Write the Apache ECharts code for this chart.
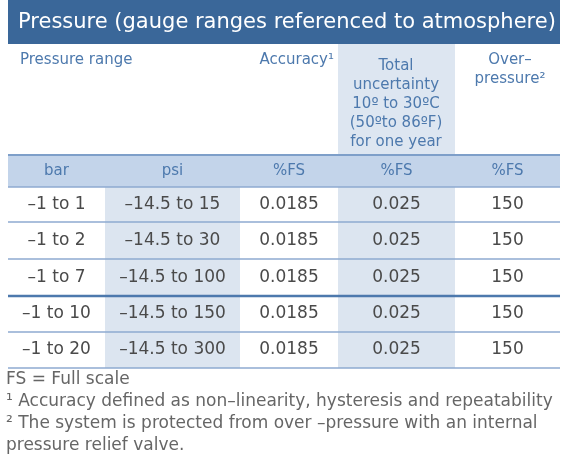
<!DOCTYPE html>
<html>
<head>
<meta charset="utf-8">
<script src="https://cdn.jsdelivr.net/npm/echarts@6/dist/echarts.min.js"></script>
<style>html,body{margin:0;background:#fff}#container{width:569px;height:461px}</style>
</head>
<body>
<div id="container"></div>
<script>
var title = 'Pressure (gauge ranges referenced to atmosphere)';
var headers = ['Pressure range', '', 'Accuracy\u00b9', 'Total\nuncertainty\n10\u00ba to 30\u00baC\n(50\u00bato 86\u00baF)\nfor one year', 'Over\u2013\npressure\u00b2'];
var units = ['bar', 'psi', '%FS', '%FS', '%FS'];
var barRange = ['\u20131 to 1', '\u20131 to 2', '\u20131 to 7', '\u20131 to 10', '\u20131 to 20'];
var psiRange = ['\u201314.5 to 15', '\u201314.5 to 30', '\u201314.5 to 100', '\u201314.5 to 150', '\u201314.5 to 300'];
var accuracy = ['0.0185', '0.0185', '0.0185', '0.0185', '0.0185'];
var totalUnc = ['0.025', '0.025', '0.025', '0.025', '0.025'];
var overPressure = ['150', '150', '150', '150', '150'];
var notes = ['FS = Full scale', '\u00b9 Accuracy defined as non\u2013linearity, hysteresis and repeatability',
    '\u00b2 The system is protected from over \u2013pressure with an internal', 'pressure relief valve.'];

// layout (pixels)
var colEdges = [8, 105, 240, 338, 455, 560];
var rowEdges = [187, 222, 259, 296, 332, 368];

var dom = document.getElementById('container');
var myChart = echarts.init(dom, null, { renderer: 'canvas' });

var cells = [];
var cols = [barRange, psiRange, accuracy, totalUnc, overPressure];
for (var r = 0; r < barRange.length; r++) {
    for (var c = 0; c < 5; c++) {
        cells.push([c, r, cols[c][r]]);
    }
}

function rect(a, b, x0, y0, x1, y1, color) {
    var p0 = a.coord([x0, y0]), p1 = a.coord([x1, y1]);
    return { type: 'rect', shape: { x: p0[0], y: p0[1], width: p1[0] - p0[0], height: p1[1] - p0[1] }, style: { fill: color } };
}
function txt(a, x, y, s, opt) {
    var p = a.coord([x, y]);
    return { type: 'text', x: p[0], y: p[1], style: Object.assign({ text: s, fill: '#4a4a4a', font: '17px "DejaVu Sans"', align: 'center', verticalAlign: 'middle' }, opt || {}) };
}
function line(a, x0, x1, y, color, w) {
    var p0 = a.coord([x0, y]), p1 = a.coord([x1, y]);
    return { type: 'line', shape: { x1: p0[0], y1: p0[1], x2: p1[0], y2: p1[1] }, style: { stroke: color, lineWidth: w } };
}

var option = {
    animation: false,
    grid: { left: 0, right: 0, top: 0, bottom: 0 },
    xAxis: { type: 'value', min: 0, max: 569, show: false },
    yAxis: { type: 'value', min: 0, max: 461, inverse: true, show: false },
    series: [
        {
            // frame: title, header, units, footnotes
            type: 'custom', data: [[0]],
            renderItem: function (params, api) {
                var ch = [];
                ch.push(rect(api, null, 8, 0, 560, 44, '#3a6799'));
                ch.push(txt(api, 18, 23, title, { fill: '#fff', font: '21px "DejaVu Sans"', align: 'left' }));
                ch.push(rect(api, null, colEdges[3], 44, colEdges[4], 155, '#dde6f1'));
                ch.push(txt(api, 20, 60, headers[0], { fill: '#4d79ad', font: '15px "DejaVu Sans"', align: 'left' }));
                ch.push(txt(api, 334, 60, headers[2], { fill: '#4d79ad', font: '15px "DejaVu Sans"', align: 'right' }));
                ch.push(txt(api, 396, 104, headers[3], { fill: '#4d79ad', font: '15px "DejaVu Sans"', lineHeight: 19 }));
                ch.push(txt(api, 510, 70, headers[4], { fill: '#4d79ad', font: '15px "DejaVu Sans"', lineHeight: 19 }));
                ch.push(rect(api, null, 8, 155, 560, rowEdges[0], '#c3d4ea'));
                ch.push(line(api, 8, 560, 155, '#7e9fc9', 2));
                for (var c = 0; c < 5; c++) {
                    ch.push(txt(api, (colEdges[c] + colEdges[c + 1]) / 2, 171, units[c], { fill: '#4d79ad', font: '15px "DejaVu Sans"' }));
                }
                ch.push(rect(api, null, colEdges[1], rowEdges[0], colEdges[2], rowEdges[5], '#dce5f0'));
                ch.push(rect(api, null, colEdges[3], rowEdges[0], colEdges[4], rowEdges[5], '#dce5f0'));
                for (var i = 0; i < rowEdges.length; i++) {
                    ch.push(line(api, 8, 560, rowEdges[i], i === 3 ? '#4d79ad' : '#8eaad0', i === 3 ? 2.5 : 1.5));
                }
                for (var n = 0; n < notes.length; n++) {
                    ch.push(txt(api, 6, 380 + n * 22, notes[n], { fill: '#666', font: '17px "DejaVu Sans"', align: 'left' }));
                }
                return { type: 'group', children: ch };
            }
        },
        {
            type: 'custom', data: cells,
            renderItem: function (params, api) {
                var c = api.value(0), r = api.value(1);
                return txt(api, (colEdges[c] + colEdges[c + 1]) / 2, (rowEdges[r] + rowEdges[r + 1]) / 2, cells[params.dataIndex][2]);
            }
        }
    ]
};
myChart.setOption(option);
</script>
</body>
</html>
